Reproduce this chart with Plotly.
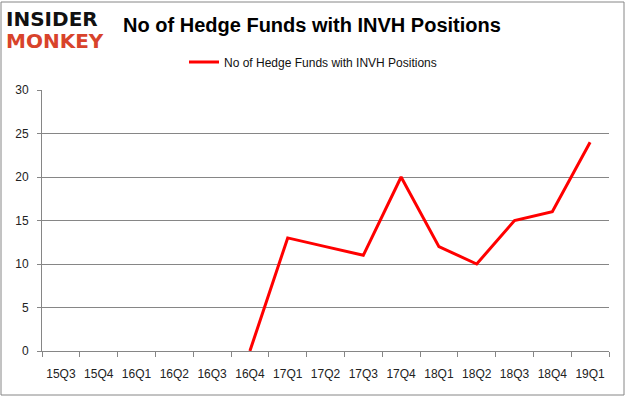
import plotly.graph_objects as go

quarters = ["15Q3", "15Q4", "16Q1", "16Q2", "16Q3", "16Q4", "17Q1", "17Q2",
            "17Q3", "17Q4", "18Q1", "18Q2", "18Q3", "18Q4", "19Q1"]
hedge_funds = [None, None, None, None, None, 0, 13, 12, 11, 20, 12, 10, 15, 16, 24]
y_ticks = [0, 5, 10, 15, 20, 25, 30]

W, H = 626, 397

fig = go.Figure()
fig.add_trace(go.Scatter(
    x=quarters, y=hedge_funds, mode="lines",
    name="No of Hedge Funds with INVH Positions",
    line=dict(color="#ff0000", width=3),
    connectgaps=False,
))

fig.update_layout(
    width=W, height=H,
    margin=dict(l=42, r=17, t=90, b=46, autoexpand=False),
    paper_bgcolor="white", plot_bgcolor="white",
    font=dict(family="Liberation Sans", size=11, color="#222"),
    showlegend=True,
    legend=dict(orientation="h", x=0.5, xanchor="center",
                y=1 - 62 / H, yanchor="middle", yref="container", xref="container",
                font=dict(size=12, color="#111")),
    xaxis=dict(
        type="category", categoryorder="array", categoryarray=quarters,
        range=[-0.5, 14.5],
        showgrid=False, showline=True, linecolor="#868686", linewidth=1,
        ticks="outside", tickson="boundaries", ticklen=5, tickcolor="#868686",
        tickfont=dict(size=12, color="#222"), zeroline=False,
        ticklabelstandoff=12, tickangle=0,
    ),
    yaxis=dict(
        range=[0, 30], tickvals=y_ticks, showgrid=True, gridcolor="#868686",
        gridwidth=1, showline=True, linecolor="#868686", linewidth=1,
        ticks="outside", ticklen=4, tickcolor="#868686",
        tickfont=dict(size=12, color="#222"), zeroline=False,
        ticklabelstandoff=6,
    ),
    title=dict(text="<b>No of Hedge Funds with INVH Positions</b>",
               x=312 / W, xref="container", xanchor="center",
               y=1 - 25 / H, yref="container", yanchor="middle",
               font=dict(family="Liberation Sans", size=20, color="black")),
    shapes=[dict(type="rect", xref="paper", yref="paper",
                 x0=-41 / 567, x1=1 + 15 / 567, y0=-44 / 261, y1=1 + 88 / 261,
                 line=dict(color="#868686", width=1))],
    annotations=[
        dict(text="<b>INSIDER</b>", xref="paper", yref="paper",
             x=-38 / 567, y=(351 - 19) / 261, xanchor="left", yanchor="middle",
             showarrow=False, font=dict(family="DejaVu Sans", size=20, color="#111")),
        dict(text="<b>MONKEY</b>", xref="paper", yref="paper",
             x=-38 / 567, y=(351 - 41) / 261, xanchor="left", yanchor="middle",
             showarrow=False, font=dict(family="DejaVu Sans", size=20, color="#d8432b")),
    ],
)

fig.write_html("out.html", config={"displayModeBar": False},
               post_script="document.body.style.margin='0';document.body.style.overflow='hidden';")
